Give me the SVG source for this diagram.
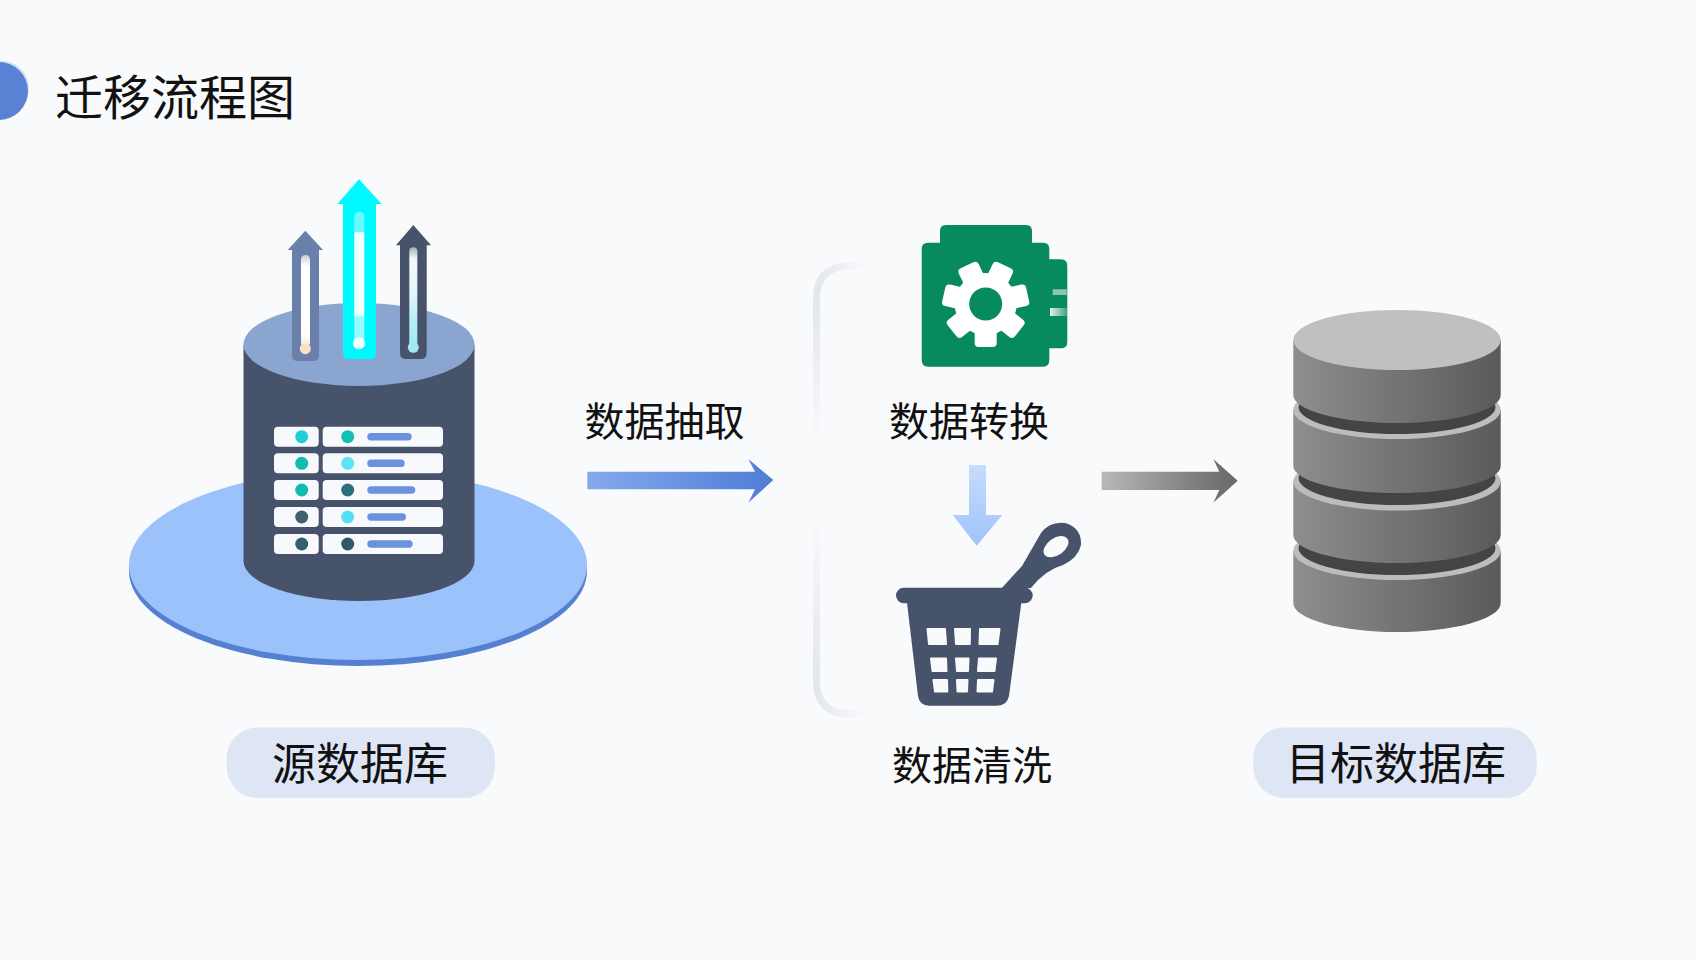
<svg xmlns="http://www.w3.org/2000/svg" width="1696" height="960" viewBox="0 0 1696 960">
<style>
.t{font-family:"Noto Sans CJK SC","Liberation Sans",sans-serif;fill:#111;text-anchor:middle}
.s{font-size:40px}.l{font-size:44px}
.row{fill:#f8f9fc}.bar{fill:#6a92dd}
.body{fill:url(#gBody)}.rim{fill:#bcbcbc}.gap{fill:#444}
.pill{fill:#dee6f6}
.win{fill:#f9fafc;stroke:#f9fafc;stroke-width:2;stroke-linejoin:round}
</style>
<defs>
<linearGradient id="gBlue" x1="0" x2="1" y1="0" y2="0"><stop offset="0" stop-color="#85a9ec"/><stop offset="1" stop-color="#4f7dd6"/></linearGradient>
<linearGradient id="gGray" x1="0" x2="1" y1="0" y2="0"><stop offset="0" stop-color="#b8b8b8"/><stop offset=".8" stop-color="#757575"/><stop offset="1" stop-color="#6a6a6a"/></linearGradient>
<linearGradient id="gDown" x1="0" x2="0" y1="0" y2="1"><stop offset="0" stop-color="#c6ddfb"/><stop offset="1" stop-color="#9fc3fc"/></linearGradient>
<linearGradient id="gBody" x1="0" x2="1" y1="0" y2="0"><stop offset="0" stop-color="#8e8e8e"/><stop offset="1" stop-color="#5a5a5a"/></linearGradient>
<linearGradient id="gB1" gradientUnits="userSpaceOnUse" x1="816" x2="866" y1="0" y2="0"><stop offset="0" stop-color="#e3e6ec"/><stop offset="1" stop-color="#e3e6ec" stop-opacity="0"/></linearGradient>
<linearGradient id="gB2" gradientUnits="userSpaceOnUse" x1="0" x2="0" y1="300" y2="448"><stop offset="0" stop-color="#e3e6ec"/><stop offset="1" stop-color="#e3e6ec" stop-opacity="0"/></linearGradient>
<linearGradient id="gB3" gradientUnits="userSpaceOnUse" x1="0" x2="0" y1="680" y2="515"><stop offset="0" stop-color="#e3e6ec"/><stop offset="1" stop-color="#e3e6ec" stop-opacity="0"/></linearGradient>
<linearGradient id="gBarL" x1="0" x2="0" y1="0" y2="1"><stop offset="0" stop-color="#c9ccd6"/><stop offset=".12" stop-color="#fff"/><stop offset=".85" stop-color="#fff"/><stop offset="1" stop-color="#f3e8d8"/></linearGradient>
<linearGradient id="gBarR" x1="0" x2="0" y1="0" y2="1"><stop offset="0" stop-color="#aab0bc"/><stop offset=".12" stop-color="#f6f8fa"/><stop offset=".45" stop-color="#e6f6fa"/><stop offset=".75" stop-color="#b4eef5"/><stop offset="1" stop-color="#9feaf2"/></linearGradient>
<linearGradient id="gBarC" x1="0" x2="0" y1="0" y2="1"><stop offset="0" stop-color="#66fbff"/><stop offset=".15" stop-color="#66fbff"/><stop offset=".16" stop-color="#f4ffff"/><stop offset=".78" stop-color="#f4ffff"/><stop offset=".8" stop-color="#99fbff"/><stop offset="1" stop-color="#99fbff"/></linearGradient>
<linearGradient id="gFade" x1="0" x2="1" y1="0" y2="0"><stop offset="0" stop-color="#e4f2ec"/><stop offset="1" stop-color="#e4f2ec" stop-opacity=".25"/></linearGradient>
<rect id="tooth" x="-11" y="-43" width="22" height="22" rx="4" fill="#fff"/>
</defs>
<rect width="1696" height="960" fill="#f9fafc"/>
<g id="title">
<circle cx="2" cy="88" r="27" fill="#d4dff5"/>
<circle cx="-1" cy="91" r="29" fill="#5a82d4"/>
<text class="t" x="175" y="115" font-size="48">迁移流程图</text>
</g>
<g id="source-db">
<ellipse cx="358" cy="571" rx="229" ry="95" fill="#5580d0"/>
<ellipse cx="358" cy="565" rx="229" ry="95" fill="#9cc2fb"/>
<path d="M243.500 345V561A115.500 40 0 0 0 474.500 561V345Z" fill="#46536a"/>
<ellipse cx="359" cy="344.500" rx="115.500" ry="41.500" fill="#8aa6d0"/>
<g id="arrow-left">
<path d="M305.300 230.700L323 250H319V355Q319 361 313 361H298Q292 361 292 355V250H287.700Z" fill="#6a80aa"/>
<rect x="301" y="255" width="9" height="92" rx="4.500" fill="url(#gBarL)"/>
<circle cx="305.300" cy="348.700" r="5.500" fill="#f8e4c4"/>
</g>
<g id="arrow-center">
<path d="M359 179.300L381.700 204H376V353Q376 359 370 359H349Q343 359 343 353V204H337.300Z" fill="#00f8ff"/>
<rect x="354.300" y="211.700" width="10" height="132" rx="5" fill="url(#gBarC)"/>
<circle cx="359" cy="343.300" r="6" fill="#f4ffff"/>
</g>
<g id="arrow-right">
<path d="M413.300 225L431 245.300H426.700V353Q426.700 359 420.700 359H406Q400 359 400 353V245.300H396Z" fill="#46536a"/>
<rect x="409.300" y="247.300" width="8" height="100" rx="4" fill="url(#gBarR)"/>
<circle cx="413.300" cy="347.300" r="5.500" fill="#9feaf2"/>
</g>
<g id="rack">
<rect class="row" x="274" y="426.700" width="44.700" height="20" rx="4"/><rect class="row" x="322.700" y="426.700" width="120.300" height="20" rx="4"/>
<rect class="row" x="274" y="453.300" width="44.700" height="20" rx="4"/><rect class="row" x="322.700" y="453.300" width="120.300" height="20" rx="4"/>
<rect class="row" x="274" y="480" width="44.700" height="20" rx="4"/><rect class="row" x="322.700" y="480" width="120.300" height="20" rx="4"/>
<rect class="row" x="274" y="507" width="44.700" height="20" rx="4"/><rect class="row" x="322.700" y="507" width="120.300" height="20" rx="4"/>
<rect class="row" x="274" y="534" width="44.700" height="20" rx="4"/><rect class="row" x="322.700" y="534" width="120.300" height="20" rx="4"/>
<circle cx="301.700" cy="436.700" r="6.500" fill="#1ecfd6"/><circle cx="347.700" cy="436.700" r="6.500" fill="#12bfb4"/>
<circle cx="301.700" cy="463.300" r="6.500" fill="#12bcb0"/><circle cx="347.700" cy="463.300" r="6.500" fill="#5ee5f5"/>
<circle cx="301.700" cy="490" r="6.500" fill="#10bcb0"/><circle cx="347.700" cy="490" r="6.500" fill="#2b7080"/>
<circle cx="301.700" cy="517" r="6.500" fill="#416070"/><circle cx="347.700" cy="517" r="6.500" fill="#55e0f2"/>
<circle cx="301.700" cy="544" r="6.500" fill="#35606f"/><circle cx="347.700" cy="544" r="6.500" fill="#2d5a6b"/>
<rect class="bar" x="367.300" y="433" width="44.400" height="7.500" rx="3.700"/>
<rect class="bar" x="367.300" y="459.600" width="37.400" height="7.500" rx="3.700"/>
<rect class="bar" x="367.300" y="486.300" width="48" height="7.500" rx="3.700"/>
<rect class="bar" x="367.300" y="513.300" width="38.700" height="7.500" rx="3.700"/>
<rect class="bar" x="367.300" y="540.300" width="45.400" height="7.500" rx="3.700"/>
</g>
<rect class="pill" x="226.700" y="727.500" width="268.300" height="70.500" rx="31"/>
<text class="t l" x="360" y="780">源数据库</text>
</g>
<g id="connectors">
<path d="M587.300 471.700H755L748.300 459L773.300 480L748.300 502.700L755 489.300H587.300Z" fill="url(#gBlue)"/>
<path d="M969 465H986V515H1002.300L976.700 545.700L952.700 515H969Z" fill="url(#gDown)"/>
<path d="M1101.700 471.700H1219.300L1213.300 459L1237.700 480.700L1213.300 502.700L1219.300 490H1101.700Z" fill="url(#gGray)"/>
</g>
<g id="bracket" fill="none" stroke-width="7">
<path d="M866 266H850Q816.500 266 816.500 300" stroke="url(#gB1)"/>
<path d="M816.500 300V448" stroke="url(#gB2)"/>
<path d="M816.500 515V680" stroke="url(#gB3)"/>
<path d="M866 714H850Q816.500 714 816.500 680" stroke="url(#gB1)"/>
</g>
<g id="transform">
<path d="M946 225H1026Q1032 225 1032 231V242.700H1043Q1049.300 242.700 1049.300 249V259.300H1061Q1067.300 259.300 1067.300 266V342Q1067.300 348.300 1061 348.300H1049.300V360Q1049.300 366.700 1043 366.700H928Q921.700 366.700 921.700 360V249Q921.700 242.700 928 242.700H940V231Q940 225 946 225Z" fill="#078a5e"/>
<rect x="1052.700" y="289.300" width="14" height="5.700" fill="#8cc6ae"/>
<rect x="1050" y="308" width="17" height="8" fill="url(#gFade)"/>
<g transform="translate(985.700 304)">
<use href="#tooth" transform="rotate(180)"/><use href="#tooth" transform="rotate(231.430)"/><use href="#tooth" transform="rotate(282.860)"/><use href="#tooth" transform="rotate(334.290)"/><use href="#tooth" transform="rotate(25.710)"/><use href="#tooth" transform="rotate(77.140)"/><use href="#tooth" transform="rotate(128.570)"/>
<circle r="31" fill="#fff"/><circle r="16.500" fill="#078a5e"/>
</g>
<text class="t s" x="969" y="436">数据转换</text>
</g>
<g id="clean">
<path d="M1000 590L1022 566L1041 533Q1050 521 1065 523Q1082 528 1081 545Q1078 558 1063 565Q1045 570 1031 588Z" fill="#46536a"/>
<ellipse cx="1056" cy="546.700" rx="14" ry="8.500" transform="rotate(-35 1056 546.700)" fill="#f9fafc"/>
<rect x="896" y="587.700" width="136.700" height="15.600" rx="7.800" fill="#46536a"/>
<path d="M906.700 600H1021.700L1009 696Q1007 705.700 997 705.700H929Q919.500 705.700 918 696Z" fill="#46536a"/>
<path class="win" d="M927.500 629H945L946 644H929ZM955 629H970L969.800 644H956ZM980 629H999.500L997.500 644H979.500Z"/>
<path class="win" d="M931 658.500H946L946.500 671H932.500ZM956 658.500H968.500L968 671H957ZM979 658.500H996L994.500 671H978Z"/>
<path class="win" d="M933.500 680H947L947.300 691.500H935ZM957 680H967.500L967 691.500H957.500ZM978 680H993.500L992 691.500H977.500Z"/>
<text class="t s" x="972" y="780">数据清洗</text>
</g>
<g id="data-extract"><text class="t s" x="664.500" y="436">数据抽取</text></g>
<g id="target-db">
<path class="body" d="M1293.300 551V603A103.700 29 0 0 0 1500.700 603V551Z"/>
<ellipse class="rim" cx="1397" cy="551" rx="103.700" ry="29"/>
<ellipse class="gap" cx="1397" cy="548" rx="98.500" ry="27"/>
<path class="body" d="M1293.300 481.500V535A103.700 28 0 0 0 1500.700 535V481.500Z"/>
<ellipse class="rim" cx="1397" cy="481.500" rx="103.700" ry="29"/>
<ellipse class="gap" cx="1397" cy="478" rx="98.500" ry="27"/>
<path class="body" d="M1293.300 410V466A103.700 27 0 0 0 1500.700 466V410Z"/>
<ellipse class="rim" cx="1397" cy="410" rx="103.700" ry="29"/>
<ellipse class="gap" cx="1397" cy="407" rx="98.500" ry="27"/>
<path class="body" d="M1293.300 340V395A103.700 28 0 0 0 1500.700 395V340Z"/>
<ellipse cx="1397" cy="340" rx="103.700" ry="30" fill="#c0c0c0"/>
<rect class="pill" x="1253.300" y="727.500" width="283.400" height="70.500" rx="31"/>
<text class="t l" x="1396" y="780">目标数据库</text>
</g>
</svg>
